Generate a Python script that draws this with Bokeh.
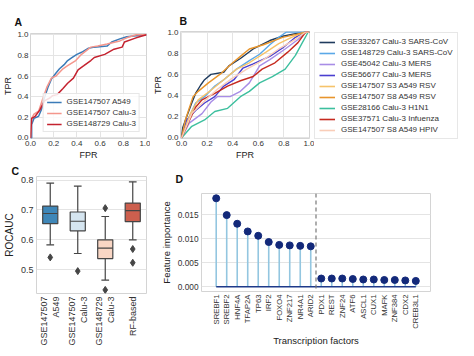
import math
from bokeh.plotting import figure
from bokeh.layouts import row, column
from bokeh.models import (Legend, LegendItem, Span, FixedTicker,
                          NumeralTickFormatter, Range1d, FactorRange, ColumnDataSource)
from bokeh.transform import dodge
from bokeh.embed import file_html
from bokeh.resources import INLINE

FONT = "Liberation Sans"

# ---------------- Panel A data ----------------
a_labels = ["GSE147507 A549", "GSE147507 Calu-3", "GSE148729 Calu-3"]
a_colors = ["#3b7bb8", "#f4968c", "#c4222f"]
a549_fpr = [0, 0.01, 0.01, 0.03, 0.07, 0.10, 0.12, 0.15, 0.18, 0.22, 0.25, 0.29, 0.32, 0.36, 0.40, 0.44, 0.50, 0.55, 0.66, 0.70, 0.77, 0.83, 0.91, 1.0]
a549_tpr = [0, 0.0, 0.13, 0.19, 0.21, 0.29, 0.39, 0.49, 0.57, 0.63, 0.67, 0.71, 0.75, 0.78, 0.81, 0.83, 0.87, 0.88, 0.89, 0.93, 0.96, 0.98, 0.99, 1.0]
calu_fpr = [0, 0.01, 0.03, 0.07, 0.10, 0.14, 0.18, 0.22, 0.28, 0.32, 0.39, 0.44, 0.52, 0.58, 0.66, 0.77, 0.83, 0.91, 1.0]
calu_tpr = [0, 0.19, 0.23, 0.26, 0.36, 0.49, 0.58, 0.60, 0.67, 0.70, 0.75, 0.81, 0.88, 0.89, 0.91, 0.94, 0.97, 1.0, 1.0]
g148_fpr = [0, 0.01, 0.04, 0.08, 0.12, 0.17, 0.19, 0.23, 0.28, 0.32, 0.37, 0.41, 0.46, 0.52, 0.55, 0.64, 0.72, 0.79, 0.81, 0.91, 1.0]
g148_tpr = [0, 0.19, 0.21, 0.27, 0.36, 0.39, 0.41, 0.42, 0.48, 0.53, 0.58, 0.66, 0.70, 0.75, 0.78, 0.81, 0.86, 0.88, 0.93, 0.97, 1.0]

# ---------------- Panel B data ----------------
b_labels = ["GSE33267 Calu-3 SARS-CoV", "GSE148729 Calu-3 SARS-CoV", "GSE45042 Calu-3 MERS",
            "GSE56677 Calu-3 MERS", "GSE147507 S3 A549 RSV", "GSE147507 S8 A549 RSV",
            "GSE28166 Calu-3 H1N1", "GSE37571 Calu-3 Infuenza", "GSE147507 S8 A549 HPIV"]
b_colors = ["#1f3b5e", "#5aa8e8", "#a88de6", "#4a3fd0", "#f6c36a", "#e8952c", "#3cbf9e", "#c62a1f", "#f9cdb8"]
b_fpr = [
    [0, 0.01, 0.04, 0.08, 0.11, 0.15, 0.18, 0.23, 0.33, 0.37, 0.46, 0.56, 0.69, 0.79, 0.91, 1.0],
    [0, 0.06, 0.11, 0.18, 0.26, 0.33, 0.43, 0.53, 0.61, 0.69, 0.76, 0.82, 1.0],
    [0, 0.06, 0.16, 0.23, 0.28, 0.38, 0.46, 0.53, 0.61, 0.69, 0.81, 0.91, 0.97, 1.0],
    [0, 0.04, 0.11, 0.18, 0.26, 0.33, 0.41, 0.48, 0.56, 0.69, 0.79, 0.89, 0.96, 1.0],
    [0, 0.07, 0.13, 0.23, 0.33, 0.43, 0.53, 0.66, 0.76, 0.86, 0.96, 1.0],
    [0, 0.03, 0.09, 0.13, 0.21, 0.31, 0.40, 0.46, 0.53, 0.64, 0.79, 0.94, 1.0],
    [0, 0.08, 0.18, 0.26, 0.36, 0.46, 0.53, 0.61, 0.71, 0.81, 0.89, 0.94, 0.99, 1.0],
    [0, 0.06, 0.11, 0.16, 0.26, 0.36, 0.46, 0.56, 0.63, 0.73, 0.83, 0.91, 0.97, 1.0],
    [0, 0.08, 0.18, 0.28, 0.38, 0.51, 0.63, 0.76, 0.89, 0.97, 1.0],
]
b_tpr = [
    [0, 0.10, 0.20, 0.33, 0.42, 0.50, 0.55, 0.60, 0.62, 0.68, 0.75, 0.84, 0.92, 0.96, 0.99, 1.0],
    [0, 0.20, 0.33, 0.39, 0.49, 0.55, 0.65, 0.73, 0.79, 0.88, 0.95, 1.0, 1.0],
    [0, 0.14, 0.23, 0.34, 0.39, 0.39, 0.44, 0.52, 0.68, 0.74, 0.84, 0.93, 1.0, 1.0],
    [0, 0.17, 0.26, 0.33, 0.39, 0.49, 0.55, 0.66, 0.70, 0.77, 0.85, 0.95, 1.0, 1.0],
    [0, 0.23, 0.36, 0.45, 0.55, 0.65, 0.71, 0.81, 0.89, 0.95, 1.0, 1.0],
    [0, 0.17, 0.39, 0.44, 0.52, 0.61, 0.71, 0.77, 0.84, 0.88, 0.95, 0.99, 1.0],
    [0, 0.11, 0.17, 0.25, 0.28, 0.39, 0.44, 0.52, 0.58, 0.65, 0.78, 0.89, 1.0, 1.0],
    [0, 0.16, 0.29, 0.36, 0.42, 0.49, 0.54, 0.58, 0.65, 0.71, 0.81, 0.90, 1.0, 1.0],
    [0, 0.23, 0.35, 0.46, 0.55, 0.65, 0.73, 0.84, 0.93, 1.0, 1.0],
]

# ---------------- Panel C data ----------------
c_cats = ["GSE147507\nA549", "GSE147507\nCalu-3", "GSE148729\nCalu-3", "RF-based"]
c_colors = ["#3f87b8", "#d5e5f0", "#f9d6c4", "#cd5f4e"]
c_lo = [0.583, 0.554, 0.465, 0.600]
c_q1 = [0.654, 0.630, 0.537, 0.661]
c_med = [0.688, 0.662, 0.572, 0.698]
c_q3 = [0.713, 0.693, 0.600, 0.723]
c_hi = [0.790, 0.780, 0.678, 0.794]
c_out_cat = ["GSE147507\nA549", "GSE147507\nCalu-3", "GSE148729\nCalu-3", "GSE148729\nCalu-3", "RF-based", "RF-based"]
c_out_val = [0.541, 0.495, 0.706, 0.432, 0.569, 0.523]

# ---------------- Panel D data ----------------
d_tfs = ["SREBF1", "SREBF2", "HNF4A", "TFAP2A", "TP63", "IRF2", "FOXO4", "ZNF217", "NR4A1", "ARID2",
         "PDX1", "REST", "ZNF24", "ATF6", "ASCL1", "CUX1", "MAFK", "ZNF384", "CDX2", "CREB3L1"]
d_imp = [0.0184, 0.0149, 0.0131, 0.0115, 0.0106, 0.0093, 0.0087, 0.0086, 0.0085, 0.0084,
         0.0017, 0.0017, 0.0017, 0.0016, 0.0015, 0.0015, 0.0014, 0.0014, 0.0013, 0.0012]


def style(p, tick_size, label_size, xgrid=True, standoffs=(3, 3)):
    p.outline_line_color = "#d4d4d4"
    p.outline_line_width = 1
    p.background_fill_color = "white"
    p.border_fill_color = "white"
    for ax in p.axis:
        ax.axis_line_color = None
        ax.major_tick_line_color = None
        ax.minor_tick_line_color = None
        ax.major_tick_out = 0
        ax.major_tick_in = 0
        ax.minor_tick_out = 0
        ax.minor_tick_in = 0
        ax.major_label_text_font = FONT
        ax.major_label_text_font_size = tick_size
        ax.major_label_text_color = "#333333"
        ax.axis_label_text_font = FONT
        ax.axis_label_text_font_size = label_size
        ax.axis_label_text_font_style = "normal"
        ax.axis_label_text_color = "#222222"
        ax.major_label_standoff = standoffs[0]
        ax.axis_label_standoff = standoffs[1]
    p.grid.grid_line_color = "#e4e4e4"
    p.grid.grid_line_width = 1
    if not xgrid:
        p.xgrid.grid_line_color = None


def letter(p, txt, offset, standoff):
    p.title.text = txt
    p.title.align = "left"
    p.title.offset = offset
    p.title.standoff = standoff
    p.title.text_font = FONT
    p.title.text_font_size = "10.5px"
    p.title.text_font_style = "bold"
    p.title.text_color = "#111111"


def style_legend(lg):
    lg.label_text_font = FONT
    lg.label_text_font_size = "8px"
    lg.label_text_color = "#333333"
    lg.glyph_width = 17
    lg.glyph_height = 8
    lg.label_height = 8
    lg.spacing = 2
    lg.padding = 4
    lg.label_standoff = 6
    lg.border_line_color = "#d0d0d0"
    lg.background_fill_alpha = 0.85


ticks01 = [0, 0.2, 0.4, 0.6, 0.8, 1.0]
TOP_H = 162
BOT_H = 186

# ---------------- Panel A ----------------
pA = figure(width=150, height=TOP_H, x_range=Range1d(0, 1.0), y_range=Range1d(-0.005, 1.012),
            output_backend="svg", toolbar_location=None, frame_align=False,
            min_border_left=25, min_border_right=4, min_border_top=33, min_border_bottom=22)
rA = []
for fx, fy, c in zip([a549_fpr, calu_fpr, g148_fpr], [a549_tpr, calu_tpr, g148_tpr], a_colors):
    rA.append(pA.line(fx, fy, line_color=c, line_width=1.5))
pA.xaxis.ticker = FixedTicker(ticks=ticks01)
pA.yaxis.ticker = FixedTicker(ticks=ticks01)
pA.xaxis.formatter = NumeralTickFormatter(format="0.0")
pA.yaxis.formatter = NumeralTickFormatter(format="0.0")
pA.xaxis.axis_label = "FPR"
pA.yaxis.axis_label = "TPR"
style(pA, "8px", "9px", standoffs=(2, 1))
lgA = Legend(items=[LegendItem(label=l, renderers=[r]) for l, r in zip(a_labels, rA)],
             location="bottom_right")
style_legend(lgA)
lgA.padding = 3
lgA.glyph_width = 15
lgA.label_standoff = 5
lgA.margin = 6
pA.add_layout(lgA)
letter(pA, "A", -16, 12)

# ---------------- Panel B ----------------
pB = figure(width=164, height=TOP_H, x_range=Range1d(-0.008, 1.0), y_range=Range1d(-0.005, 1.005),
            output_backend="svg", toolbar_location=None, frame_align=False,
            min_border_left=25, min_border_right=5, min_border_top=31, min_border_bottom=22)
for fx, fy, c in zip(b_fpr, b_tpr, b_colors):
    pB.line(fx, fy, line_color=c, line_width=1.4)
pB.xaxis.ticker = FixedTicker(ticks=ticks01)
pB.yaxis.ticker = FixedTicker(ticks=ticks01)
pB.xaxis.formatter = NumeralTickFormatter(format="0.0")
pB.yaxis.formatter = NumeralTickFormatter(format="0.0")
pB.xaxis.axis_label = "FPR"
pB.yaxis.axis_label = "TPR"
style(pB, "8px", "9px", standoffs=(2, 1))
letter(pB, "B", -1, 9)

# legend of panel B, in its own borderless figure whose view shows only the legend
pL = figure(width=144, height=TOP_H, x_range=Range1d(5, 6), y_range=Range1d(5, 6),
            x_axis_type=None, y_axis_type=None, output_backend="svg", toolbar_location=None,
            frame_align=False,
            min_border_left=0, min_border_right=0, min_border_top=32, min_border_bottom=0)
pL.outline_line_color = None
rL = []
for fx, fy, c in zip(b_fpr, b_tpr, b_colors):
    rL.append(pL.line(fx, fy, line_color=c, line_width=1.6))
lgB = Legend(items=[LegendItem(label=l, renderers=[r]) for l, r in zip(b_labels, rL)],
             location="top_left")
style_legend(lgB)
lgB.glyph_width = 16
lgB.margin = 0
lgB.background_fill_alpha = 1.0
pL.add_layout(lgB)

# ---------------- Panel C ----------------
pC = figure(width=157, height=BOT_H, x_range=FactorRange(*c_cats), y_range=Range1d(0.42, 0.812),
            output_backend="svg", toolbar_location=None, frame_align=False,
            min_border_left=35, min_border_right=11, min_border_top=5, min_border_bottom=40)
srcC = ColumnDataSource(dict(cat=c_cats, lo=c_lo, q1=c_q1, med=c_med, q3=c_q3, hi=c_hi, color=c_colors))
box_line = "#454545"
pC.segment(x0="cat", y0="q3", x1="cat", y1="hi", source=srcC, line_color=box_line, line_width=1.2)
pC.segment(x0="cat", y0="q1", x1="cat", y1="lo", source=srcC, line_color=box_line, line_width=1.2)
pC.segment(x0=dodge("cat", -0.14, range=pC.x_range), y0="hi",
           x1=dodge("cat", 0.14, range=pC.x_range), y1="hi", source=srcC, line_color=box_line, line_width=1.2)
pC.segment(x0=dodge("cat", -0.14, range=pC.x_range), y0="lo",
           x1=dodge("cat", 0.14, range=pC.x_range), y1="lo", source=srcC, line_color=box_line, line_width=1.2)
pC.vbar(x="cat", top="q3", bottom="q1", width=0.55, source=srcC, fill_color="color",
        line_color=box_line, line_width=1.2)
pC.segment(x0=dodge("cat", -0.275, range=pC.x_range), y0="med",
           x1=dodge("cat", 0.275, range=pC.x_range), y1="med", source=srcC, line_color=box_line, line_width=1.2)
pC.scatter(x=c_out_cat, y=c_out_val, marker="diamond", size=7, color=box_line)
pC.yaxis.ticker = FixedTicker(ticks=[0.5, 0.6, 0.7, 0.8])
pC.yaxis.formatter = NumeralTickFormatter(format="0.0")
pC.yaxis.axis_label = "ROCAUC"
style(pC, "9px", "10px", xgrid=False)
pC.xaxis.major_label_orientation = math.pi / 2
letter(pC, "C", -25, 0)

# ---------------- Panel D ----------------
pD = figure(width=301, height=BOT_H,
            x_range=FactorRange(*d_tfs, range_padding=0.9, range_padding_units="absolute"),
            y_range=Range1d(-0.001, 0.0194),
            output_backend="svg", toolbar_location=None, frame_align=False,
            min_border_left=43, min_border_right=28, min_border_top=31, min_border_bottom=40)
pD.segment(x0=d_tfs, y0=[0] * len(d_tfs), x1=d_tfs, y1=d_imp, line_color="#93c6e0", line_width=1.6)
pD.line(x=[d_tfs[0], d_tfs[-1]], y=[0, 0], line_color="#1f3a8a", line_width=1.5)
pD.scatter(x=d_tfs, y=d_imp, size=7, color="#13297a")
pD.add_layout(Span(location=10, dimension="height", line_color="#777777",
                   line_dash="4 3", line_width=1.2))
pD.yaxis.ticker = FixedTicker(ticks=[0, 0.005, 0.010, 0.015])
pD.yaxis.formatter = NumeralTickFormatter(format="0.000")
pD.yaxis.axis_label = "Feature importance"
pD.xaxis.axis_label = "Transcription factors"
style(pD, "8.3px", "9.5px", xgrid=False)
pD.xaxis.major_label_orientation = math.pi / 2
pD.xaxis.major_label_text_font_size = "7.7px"
letter(pD, "D", -26, 17)

layout = column(row(pA, pB, pL), row(pC, pD))
open("out.html", "w").write(file_html(layout, INLINE))
